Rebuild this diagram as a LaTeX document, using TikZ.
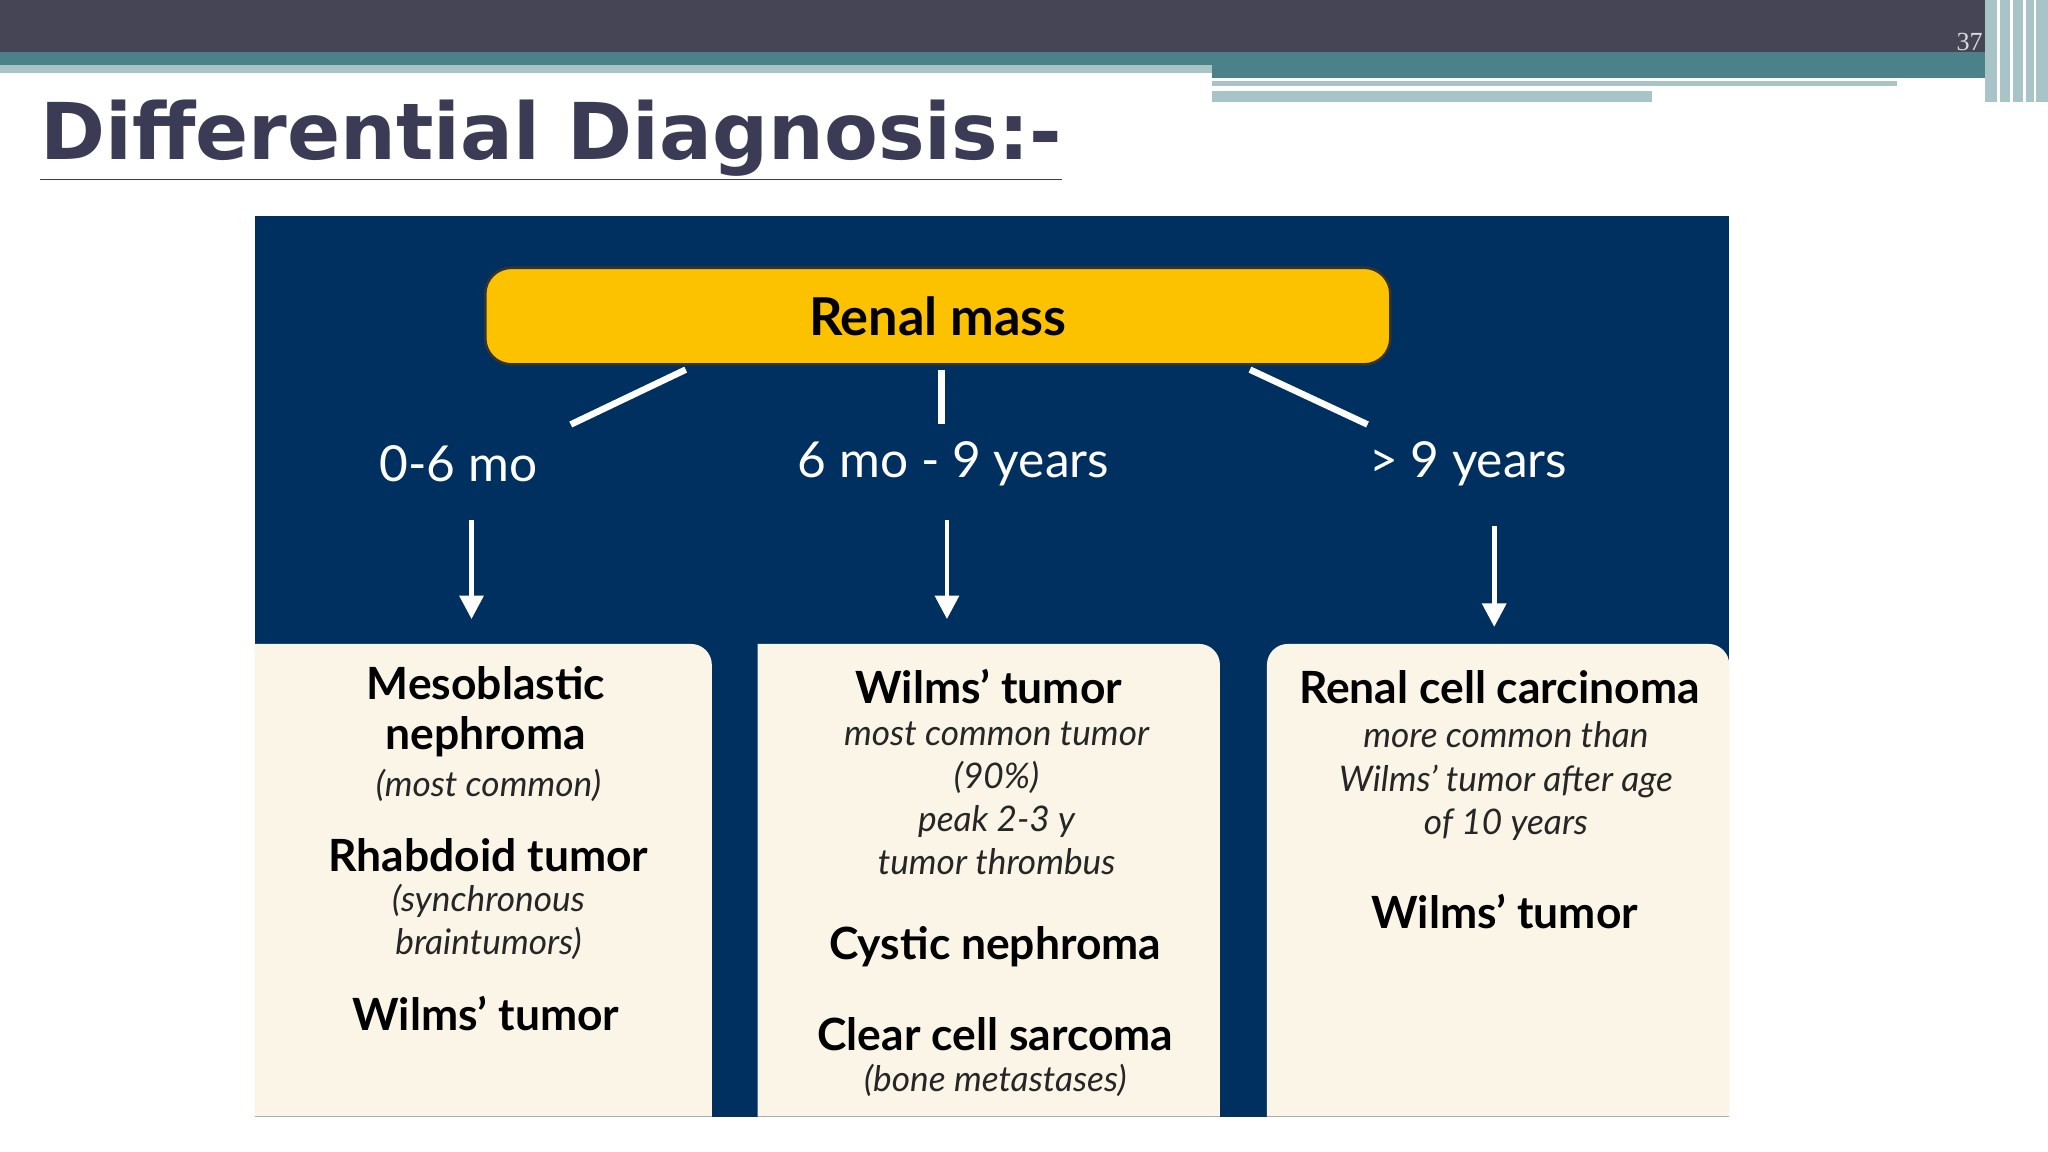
\documentclass[tikz,border=0pt]{standalone}
\usepackage{fontspec}
\setmainfont{Lato}
\newfontfamily\titlefont{DejaVu Sans}
\newfontfamily\numfont{Liberation Serif}
\usetikzlibrary{positioning,arrows.meta}
\definecolor{topbar}{HTML}{454556}
\definecolor{teal}{HTML}{4B8189}
\definecolor{palet}{HTML}{A9C4C7}
\definecolor{navy}{HTML}{00305F}
\definecolor{cream}{HTML}{FBF5E8}
\definecolor{gold}{HTML}{FCC200}
\definecolor{titlec}{HTML}{3B3B55}
\tikzset{every picture/.style={line width=0.75pt},
  card/.style={fill=cream, rounded corners=8pt},
  head/.style={font=\fontsize{17}{19}\selectfont\bfseries, align=center, text=black},
  note/.style={font=\fontsize{13.5}{16.5}\selectfont\itshape, align=center, text=black!85},
  age/.style={font=\fontsize{19}{22}\selectfont, text=white},
  stem/.style={draw=white, line width=2.5pt},
  down/.style={draw=white, line width=1.8pt, -{Triangle[width=9pt,length=9pt]}}}
\begin{document}
\begin{tikzpicture}[x=0.5pt,y=0.5pt,yscale=-1,xscale=1]
\useasboundingbox (0,0) rectangle (1568,882);

%Slide header bars
\fill[topbar] (0,0) rectangle (1568,40);
\fill[teal] (0,40) rectangle (1568,50);
\fill[palet] (0,50) rectangle (928,56);
\fill[teal] (928,50) rectangle (1520,60);
\fill[palet] (928,62) rectangle (1452,66);
\fill[palet] (928,70) rectangle (1265,78);
\fill[palet] (1520,0) rectangle (1568,78);
\foreach \x in {1530,1540,1550,1558} \draw[white, line width=1pt] (\x,0) -- (\x,78);

% Text Node
\node (page) at (1508,32) {\numfont\fontsize{10}{12}\selectfont\color{white!85!black}37};
% Text Node
\node[anchor=base west, inner sep=0pt] (title) at (30,122)
  {\titlefont\bfseries\fontsize{30}{34}\selectfont\color{titlec}\underline{Differential Diagnosis:-}};

%Panel
\fill[navy] (195,165) rectangle (1324,855);
\fill[cream] (195,855) -- (195,493) [rounded corners=8pt] -- (545,493) [sharp corners] -- (545,855) -- cycle;
\fill[card] (580,855) [sharp corners] -- (580,493) [rounded corners=8pt] -- (934,493) [sharp corners] -- (934,855) -- cycle;
\fill[cream] (970,855) [rounded corners=8pt] -- (970,493) -- (1324,493) [sharp corners] -- (1324,855) -- cycle;

%Root node
\node[draw=black!80, line width=1pt, fill=gold, rounded corners=10pt, minimum width=346.5pt, minimum height=37pt,
  font=\fontsize{20}{24}\selectfont\bfseries] (mass) at (718,242) {Renal mass};

\coordinate (s1) at (525,283); \coordinate (e1) at (437,325);
\coordinate (s2) at (721,283); \coordinate (e2) at (721,325);
\coordinate (s3) at (957,283); \coordinate (e3) at (1047,325);
\draw[stem] (s1) -- (e1);
\draw[stem] (s2) -- (e2);
\draw[stem] (s3) -- (e3);

% Text Node
\node[age] (young) at (351,355) {0-6 mo};
\node[age] (mid) at (730,355) {6 mo - 9 years};
\node[age] (old) at (1124,355) {> 9 years};

\coordinate (a1) at (361,398); \coordinate (b1) at (361,474);
\coordinate (a2) at (725,398); \coordinate (b2) at (725,474);
\coordinate (a3) at (1144,403); \coordinate (b3) at (1144,480);
\draw[down] (a1) -- (b1);
\draw[down] (a2) -- (b2);
\draw[down] (a3) -- (b3);

%Box 1
\node[head] (meso) at (372,545) {Mesoblastic\\nephroma};
\node[note] (meso n) at (374,601) {(most common)};
\node[head] (rhab) at (374,655) {Rhabdoid tumor};
\node[note] (rhab n) at (374,706) {(synchronous\\braintumors)};
\node[head] (wilms1) at (372,776) {Wilms’ tumor};

%Box 2
\node[head] (wilms2) at (757,526) {Wilms’ tumor};
\node[note] (wilms2 n) at (763,611) {most common tumor\\(90\%)\\peak 2-3 y\\tumor thrombus};
\node[head] (cystic) at (762,725) {Cystic nephroma};
\node[head] (clear) at (762,792) {Clear cell sarcoma};
\node[note] (clear n) at (762,827) {(bone metastases)};

%Box 3
\node[head] (rcc) at (1148,526) {Renal cell carcinoma};
\node[note] (rcc n) at (1153,598) {more common than\\Wilms’ tumor after age\\of 10 years};
\node[head] (wilms3) at (1152,698) {Wilms’ tumor};

\end{tikzpicture}
\end{document}
